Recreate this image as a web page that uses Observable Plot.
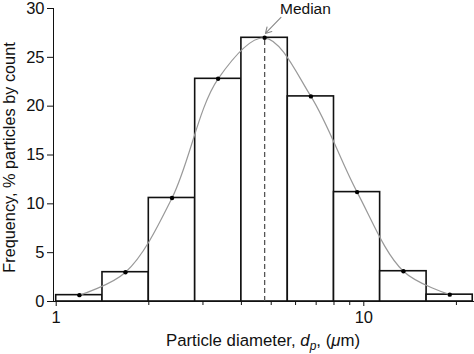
<!DOCTYPE html>
<html><head><meta charset="utf-8">
<script src="https://cdn.jsdelivr.net/npm/d3@7"></script>
<script src="https://cdn.jsdelivr.net/npm/@observablehq/plot@0.6"></script>
<style>body{margin:0;background:#fff} svg{display:block}</style>
</head><body><div id="chart"></div>
<script>
const binEdges = [1, 1.414, 2, 2.83, 4, 5.66, 8, 11.3, 16, 22.6];
const binMids = [1.19, 1.68, 2.38, 3.36, 4.76, 6.73, 9.51, 13.45, 19.03];
const frequencies = [0.65, 3.0, 10.6, 22.8, 27.0, 21.0, 11.2, 3.1, 0.7];
const medianDiameter = 4.76;
const medianFrequency = 27.0;
const medianLabel = "Median";
const yTicks = [0, 5, 10, 15, 20, 25, 30];
const xMinorTicks = [2, 3, 4, 5, 6, 7, 8, 9, 20];
const xMajorTicks = [1, 10];
const yLabel = "Frequency, % particles by count";

const bars = frequencies.map((f, i) => ({x1: binEdges[i], x2: binEdges[i + 1], f}));
const pts = frequencies.map((f, i) => ({x: binMids[i], f}));
const font = "'Liberation Sans', Arial, sans-serif";

const plot = Plot.plot({
  width: 474, height: 354,
  marginLeft: 53, marginRight: 0, marginTop: 8, marginBottom: 53,
  style: {fontFamily: font, fontSize: "16px", color: "#111", background: "#fff"},
  x: {type: "log", domain: [0.98, 22.9]},
  y: {domain: [0, 30]},
  marks: [
    Plot.rect(bars, {x1: "x1", x2: "x2", y1: 0, y2: "f", fill: "white", stroke: "#111", strokeWidth: 1.6}),
    Plot.ruleX([medianDiameter], {y1: 0, y2: medianFrequency, stroke: "#555", strokeWidth: 1.3, strokeDasharray: "5,3"}),
    Plot.line(pts, {x: "x", y: "f", curve: "catmull-rom", stroke: "#999", strokeWidth: 1.2}),
    Plot.dot(pts, {x: "x", y: "f", r: 2.2, fill: "#000", stroke: "none"}),
    Plot.arrow([0], {x1: () => medianDiameter * 1.13, y1: () => 29.1, x2: () => medianDiameter * 1.006, y2: () => 27.45, stroke: "#888", strokeWidth: 1.1, headLength: 9}),
    Plot.text([medianLabel], {x: () => medianDiameter * 1.357, y: () => 29.95, text: d => d, fontSize: 15.5, fill: "#111"}),
    Plot.frame({anchor: "left", stroke: "#111"}),
    Plot.frame({anchor: "bottom", stroke: "#111"}),
    Plot.axisY({ticks: yTicks, tickSize: 6, tickPadding: 3, label: null, fontSize: 16.5}),
    Plot.axisX({ticks: xMinorTicks, tickSize: 4, tickFormat: () => "", label: null}),
    Plot.axisX({ticks: xMajorTicks, tickSize: 5, tickPadding: 5, tickFormat: d => String(d), label: null, fontSize: 16.5})
  ]
});

const svg = d3.select(plot);
svg.append("text")
  .attr("transform", "translate(15,157.5) rotate(-90)")
  .attr("text-anchor", "middle")
  .attr("font-family", font).attr("font-size", 16.3).attr("fill", "#111")
  .text(yLabel);
const xl = svg.append("text")
  .attr("x", 263).attr("y", 346)
  .attr("text-anchor", "middle")
  .attr("font-family", font).attr("font-size", 16.8).attr("fill", "#111");
xl.append("tspan").text("Particle diameter, ");
xl.append("tspan").attr("font-style", "italic").text("d");
xl.append("tspan").attr("font-style", "italic").attr("font-size", 12).attr("dy", 4).text("p");
xl.append("tspan").attr("dy", -4).text(", (");
xl.append("tspan").attr("font-style", "italic").text("μ");
xl.append("tspan").text("m)");

document.getElementById("chart").append(plot);
</script>
</body></html>
